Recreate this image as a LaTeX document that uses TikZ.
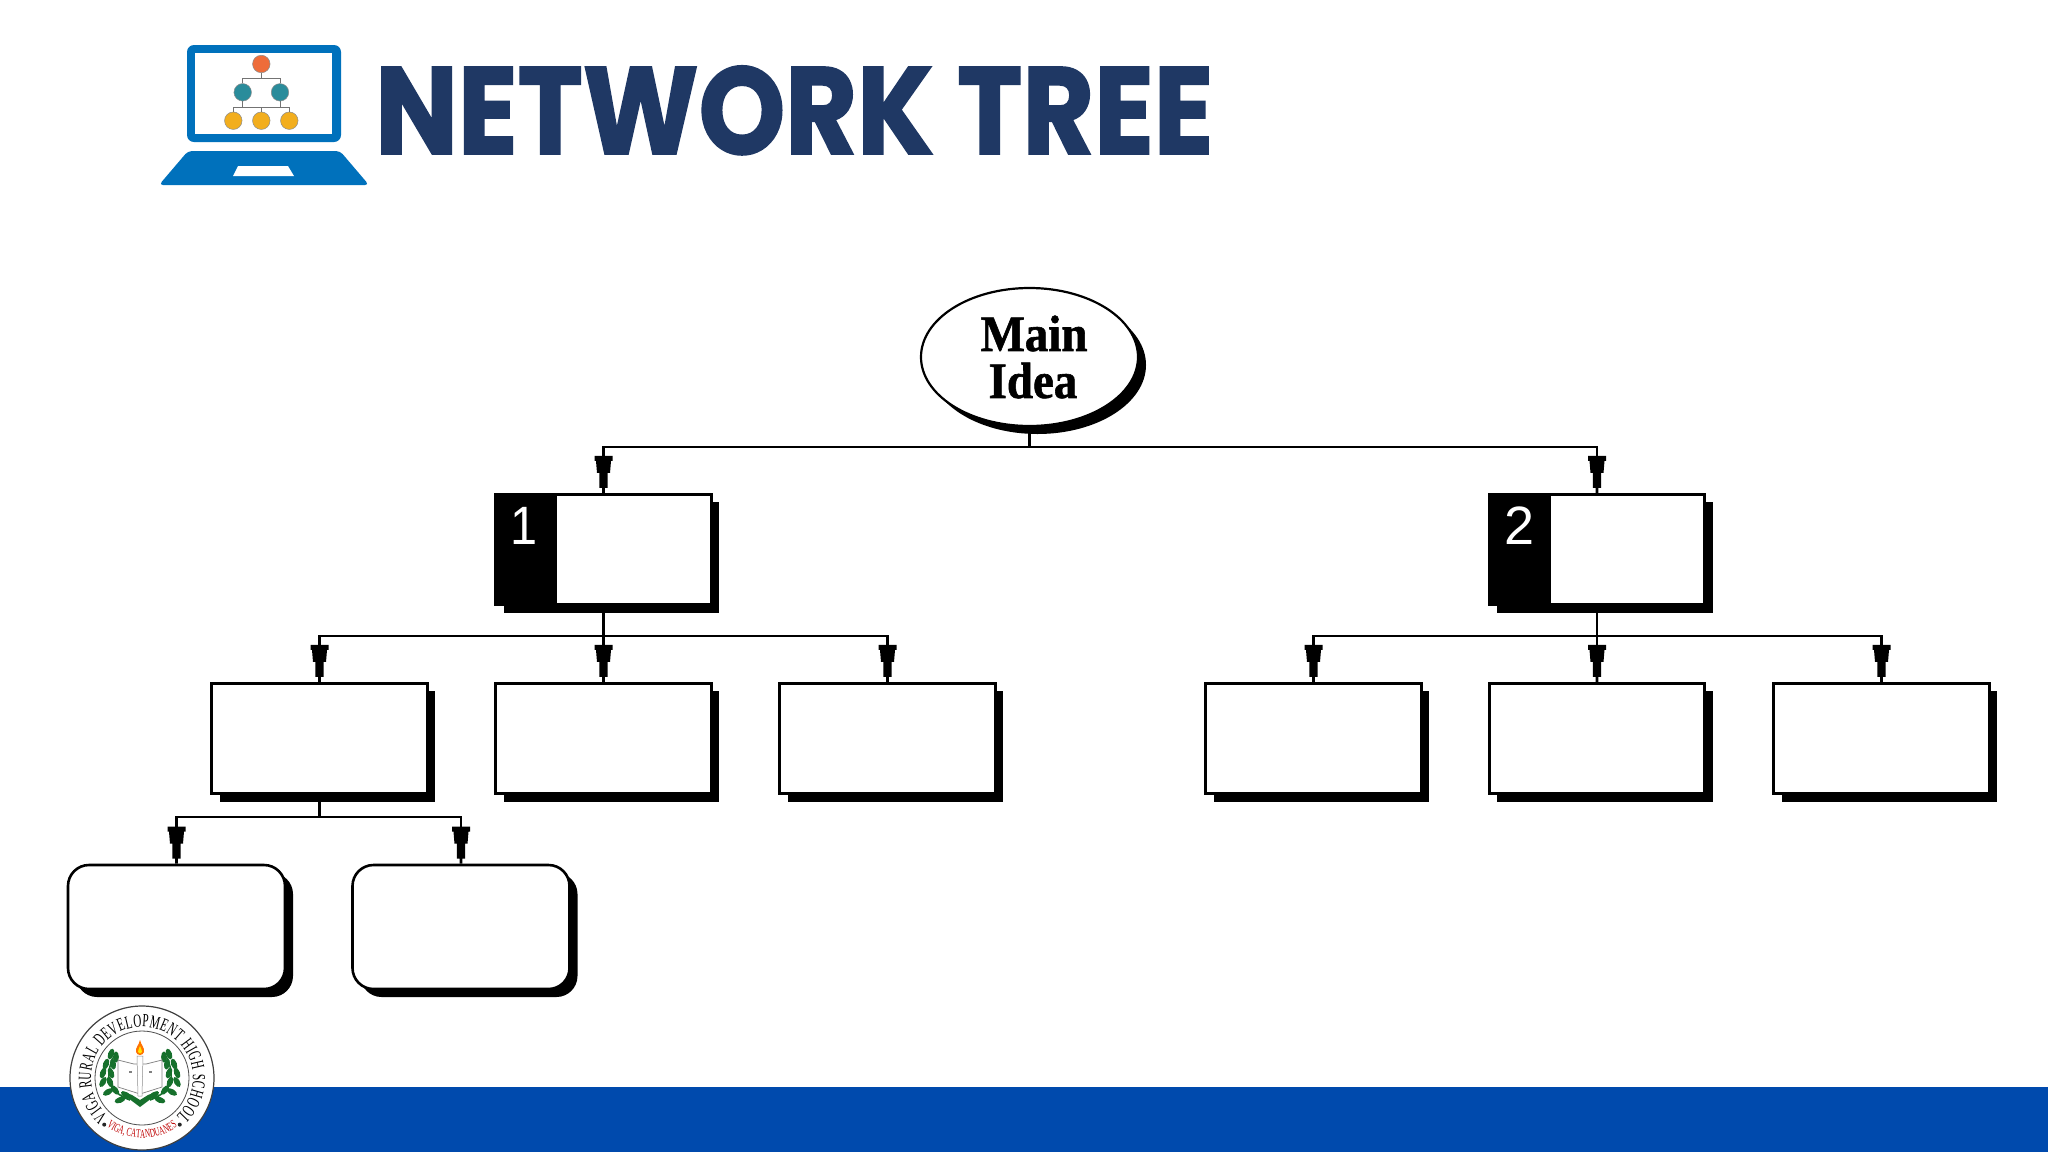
\documentclass[tikz,border=0pt]{standalone}
\usepackage{fontspec}
\usepackage{graphicx}
\usetikzlibrary{shapes.geometric,shadows,decorations.text,arrows.meta}
\setmainfont{Liberation Serif}
\newfontfamily\titlefont[BoldFeatures={FakeBold=1.6}]{Poppins}
\newfontfamily\ideafont[BoldFeatures={FakeBold=1.2}]{Liberation Serif}
\newfontfamily\numfont{Liberation Sans}
\newfontfamily\logofont[FakeStretch=0.6]{Liberation Serif}
\definecolor{navy}{HTML}{1F3864}
\definecolor{band}{HTML}{004AAD}
\definecolor{lapblue}{HTML}{0071BC}
\definecolor{nodeor}{HTML}{EE6C3A}
\definecolor{nodete}{HTML}{2A8C9B}
\definecolor{nodeye}{HTML}{F2AE1E}
\definecolor{leaf}{HTML}{16702C}
\pgfdeclarearrow{
  name=Plug,
  setup code={
    \pgfarrowssettipend{0pt}
    \pgfarrowssetlineend{-20pt}
    \pgfarrowssetvisualbackend{-37pt}
    \pgfarrowssetbackend{-37pt}
    \pgfarrowshullpoint{0pt}{0pt}
    \pgfarrowshullpoint{-37pt}{9pt}
    \pgfarrowshullpoint{-37pt}{-9pt}
  },
  drawing code={
    \pgfpathmoveto{\pgfqpoint{0pt}{1.4pt}}
    \pgfpathlineto{\pgfqpoint{-5pt}{1.4pt}}
    \pgfpathlineto{\pgfqpoint{-5pt}{4.2pt}}
    \pgfpathlineto{\pgfqpoint{-20pt}{4.2pt}}
    \pgfpathlineto{\pgfqpoint{-20pt}{6.5pt}}
    \pgfpathlineto{\pgfqpoint{-32pt}{7.5pt}}
    \pgfpathlineto{\pgfqpoint{-32pt}{9pt}}
    \pgfpathlineto{\pgfqpoint{-37pt}{9pt}}
    \pgfpathlineto{\pgfqpoint{-37pt}{-9pt}}
    \pgfpathlineto{\pgfqpoint{-32pt}{-9pt}}
    \pgfpathlineto{\pgfqpoint{-32pt}{-7.5pt}}
    \pgfpathlineto{\pgfqpoint{-20pt}{-6.5pt}}
    \pgfpathlineto{\pgfqpoint{-20pt}{-4.2pt}}
    \pgfpathlineto{\pgfqpoint{-5pt}{-4.2pt}}
    \pgfpathlineto{\pgfqpoint{-5pt}{-1.4pt}}
    \pgfpathlineto{\pgfqpoint{0pt}{-1.4pt}}
    \pgfpathclose
    \pgfusepathqfill
  }
}
\tikzset{
  shade8/.style={general shadow={shadow xshift=8pt,shadow yshift=-8pt,fill=black}},
  sqbox/.style={draw=black,line width=2.6pt,fill=white,minimum width=215.5pt,minimum height=110.5pt,inner sep=0pt,shade8},
  rdbox/.style={draw=black,line width=2.6pt,fill=white,minimum width=217pt,minimum height=124pt,inner sep=0pt,rounded corners=21pt,shade8},
  mainel/.style={ellipse,draw=black,line width=2.2pt,fill=white,minimum width=217pt,minimum height=138pt,inner sep=0pt,shade8,align=center,font=\fontsize{51}{47}\selectfont\ideafont\bfseries},
  tabbox/.style={fill=black,draw=black,line width=2.6pt,minimum width=60pt,minimum height=110.5pt,inner sep=0pt,anchor=north west},
  numlab/.style={text=white,font=\fontsize{54}{54}\selectfont\numfont,inner sep=0pt},
  conn/.style={draw=black,line width=2.6pt},
  feed/.style={conn,-Plug},
  lapwire/.style={draw=black!55,line width=0.9pt},
  lapnode/.style={circle,minimum size=17.5pt,inner sep=0pt,draw=black!45,line width=0.5pt},
}
\begin{document}
\begin{tikzpicture}[x=1pt,y=-1pt]
\useasboundingbox (0,0) rectangle (2048,1152);
\fill[white] (0,0) rectangle (2048,1152);
\fill[band] (0,1086.5) rectangle (2048,1152);

% title
\node[anchor=south west,inner sep=0pt,text=navy] (title) at (375,155)
  {\resizebox{838pt}{88pt}{\titlefont\bfseries NETWORK TREE}};

% laptop icon
\fill[lapblue,rounded corners=7pt] (187,45) rectangle (341,142);
\fill[white] (195,53) rectangle (332,134);
\fill[lapblue,rounded corners=4pt] (188,151) -- (340,151) -- (369,185) -- (159,185) -- cycle;
\fill[white] (238,166) -- (288,166) -- (294,176) -- (233,176) -- cycle;
\node[lapnode,fill=nodeor] (l1) at (261.3,64) {};
\node[lapnode,fill=nodete] (l2) at (242.7,92.3) {};
\node[lapnode,fill=nodete] (l3) at (280,92.3) {};
\node[lapnode,fill=nodeye] (l4) at (233.3,120.7) {};
\node[lapnode,fill=nodeye] (l5) at (261.3,120.7) {};
\node[lapnode,fill=nodeye] (l6) at (289.3,120.7) {};
\coordinate (lb1) at (261.3,78);
\coordinate (lb2) at (261.3,107);
\draw[lapwire] (l1) -- (lb1);
\draw[lapwire] (lb1) -| (l2);
\draw[lapwire] (lb1) -| (l3);
\draw[lapwire] (l2) |- (lb2);
\draw[lapwire] (l3) |- (lb2);
\draw[lapwire] (lb2) -| (l4);
\draw[lapwire] (lb2) -- (l5);
\draw[lapwire] (lb2) -| (l6);

% tree
\node[mainel] (main) at (1029.5,357) {\hspace*{9pt}\scalebox{.92}[1]{Main}\\\hspace*{7pt}\scalebox{.92}[1]{Idea}};

\node[sqbox] (b1) at (603.5,549.5) {};
\node[tabbox] (t1) at (b1.north west) {};
\node[numlab] (n1) at (524,526) {\scalebox{.9}[1]{1}};
\node[sqbox] (b2) at (1597,549.5) {};
\node[tabbox] (t2) at (b2.north west) {};
\node[numlab] (n2) at (1519,526) {2};

\node[sqbox] (c1) at (319.5,738.5) {};
\node[sqbox] (c2) at (603.5,738.5) {};
\node[sqbox] (c3) at (887.5,738.5) {};
\node[sqbox] (c4) at (1313.5,738.5) {};
\node[sqbox] (c5) at (1597,738.5) {};
\node[sqbox] (c6) at (1881.5,738.5) {};

\node[rdbox] (d1) at (176.5,927) {};
\node[rdbox] (d2) at (461,927) {};

\coordinate (busA) at (1029.5,447);
\coordinate (busB) at (603.5,636);
\coordinate (busC) at (1597,636);
\coordinate (busD) at (319.5,817);

\draw[conn] (main.south) -- (busA);
\draw[feed] (busA) -| (b1.north);
\draw[feed] (busA) -| (b2.north);
\draw[conn] (b1.south) -- (busB);
\draw[feed] (busB) -| (c1.north);
\draw[feed] (busB) -- (c2.north);
\draw[feed] (busB) -| (c3.north);
\draw[conn] (b2.south) -- (busC);
\draw[feed] (busC) -| (c4.north);
\draw[feed] (busC) -- (c5.north);
\draw[feed] (busC) -| (c6.north);
\draw[conn] (c1.south) -- (busD);
\draw[feed] (busD) -| (d1.north);
\draw[feed] (busD) -| (d2.north);

% school seal
\begin{scope}[shift={(142,1078)},y=1pt]
  \fill[white,draw=black!75,line width=1.2pt] (0,0) circle (72);
  \draw[black!70,line width=0.8pt] (0,0) circle (47);
  \path[decorate,decoration={text along path,text align={fit to path},
     text={|\logofont\fontsize{18.5}{18.5}\selectfont\color{black}|VIGA RURAL DEVELOPMENT HIGH SCHOOL}}]
     (228:51) arc (228:-48:51);
  \path[decorate,decoration={text along path,text align=center,
     text={|\logofont\fontsize{12}{12}\selectfont\color{red!75!black}|VIGA, CATANDUANES}}]
     (232:60) arc (232:308:60);
  \fill[black!85] (231:60) circle (2);
  \fill[black!85] (309:60) circle (2);
  % laurels
  \draw[leaf,line width=1.6pt] (-12,-22) .. controls (-34,-14) and (-38,2) .. (-28,22);
  \draw[leaf,line width=1.6pt] (8,-22) .. controls (30,-14) and (34,2) .. (24,22);
  \foreach \x/\y/\r in {-16/-17/150,-22/-22/20,-27/-12/130,-34/-14/30,-32/-4/110,-39/-4/60,-31/5/110,-39/5/70,-29/14/100,-36/14/70,-26/21/90,-31/24/70}{
    \fill[leaf,shift={(\x,\y)},rotate=\r] (0,0) ellipse (5.6 and 2.9);
    \fill[leaf,shift={(-\x-4,\y)},rotate=180-\r] (0,0) ellipse (5.6 and 2.9);
  }
  \fill[leaf] (-2,-29) -- (-18,-17) -- (-20,-13) -- (-10,-17) -- (-2,-22) -- (6,-17) -- (16,-13) -- (14,-17) -- cycle;
  % book
  \fill[white,draw=black!50,line width=0.7pt] (-2,-16) -- (-24,-9) -- (-24,18) -- (-8,14) -- (-2,14) -- (4,14) -- (20,18) -- (20,-9) -- cycle;
  \draw[black!50,line width=0.6pt] (-2,-16) -- (-2,14);
  \fill[white,draw=black!45,line width=0.5pt] (-5,22) -- (1,22) -- (0,-18) -- (-4,-18) -- cycle;
  \fill[black!50] (-13,5) rectangle (-10,7);
  \fill[black!50] (7,5) rectangle (10,7);
  % flame
  \fill[orange!90!red] (-2,38) .. controls (-1,33) and (3,30) .. (2,26) .. controls (1,22) and (-5,22) .. (-6,26) .. controls (-7,30) and (-3,33) .. (-2,38) -- cycle;
  \fill[yellow!90!orange] (-2,32) .. controls (-1,29) and (0,28) .. (0,26) .. controls (-1,24) and (-3,24) .. (-4,26) .. controls (-4,28) and (-3,29) .. (-2,32) -- cycle;
\end{scope}
\end{tikzpicture}
\end{document}
